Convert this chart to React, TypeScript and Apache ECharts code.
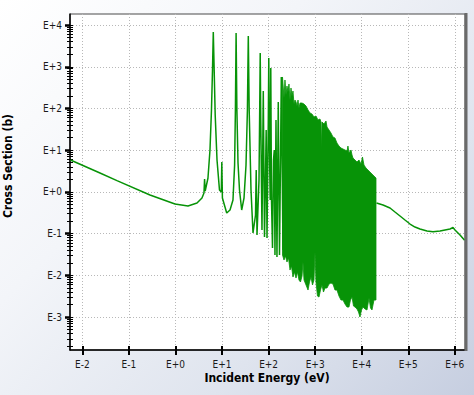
import React, { useEffect, useRef } from "react";
import * as echarts from "echarts";

// Axis extents, in decades (log10)
const xMinLog = -2.266;
const xMaxLog = 6.219;
const yMinLog = -3.79;
const yMaxLog = 4.265;

// Tick exponents and their labels
const xTickExps = [-2, -1, 0, 1, 2, 3, 4, 5, 6];
const yTickExps = [-3, -2, -1, 0, 1, 2, 3, 4];
const yMinorMantissas = [1, 2, 3, 4, 5, 6, 7, 8, 9];

// Thermal + resolved (sparse) region: log10 energy (eV) and log10 cross section (b)
const lowLogE = [
  -2.256, -1.622, -1.257, -0.548, -0.011, 0.269, 0.462, 0.569, 0.612, 0.625, 0.638, 0.698,
  0.741, 0.773, 0.795, 0.812, 0.831, 0.853, 0.892, 0.945, 0.984, 0.995, 1.008, 1.1,
  1.171, 1.235, 1.27, 1.287, 1.302, 1.319, 1.343, 1.375, 1.422, 1.472, 1.515, 1.545,
  1.564, 1.583, 1.622, 1.665, 1.719, 1.734, 1.751, 1.794, 1.809, 1.82, 1.832, 1.858,
  1.886, 1.912, 1.933, 1.948, 1.966, 1.994, 2.004, 2.019, 2.034, 2.047, 2.062, 2.084,
  2.105, 2.122, 2.137, 2.159, 2.18, 2.208, 2.234, 2.256, 2.273, 2.288, 2.309,
];
const lowLogSigma = [
  0.765, 0.453, 0.269, -0.074, -0.29, -0.338, -0.266, -0.146, -0.026, 0.309, 0.022, 0.333,
  1.005, 1.964, 2.923, 3.834, 2.923, 1.844, 0.765, 0.046, -0.002, 0.717, -0.146, -0.506,
  -0.434, -0.194, 0.645, 1.964, 3.81, 1.964, 0.693, 0.046, -0.434, -0.146, 0.645, 1.964,
  3.738, 1.964, 0.046, -0.985, -0.554, 0.525, -1.033, 0.285, 1.964, 3.33, 1.724, -0.913,
  2.419, -1.081, 0.285, 1.484, -1.105, 1.724, 3.21, 1.005, -0.194, 2.97, -0.194, -1.345,
  0.765, 1.005, -1.513, 1.724, -1.561, 2.155, -1.513, 0.765, 2.755, 2.755, -1.393,
];

// Unresolved / fast region
const fastLogE = [
  4.318, 4.458, 4.608, 4.715, 4.823, 4.93, 5.038, 5.145, 5.252, 5.403, 5.532, 5.682,
  5.79, 5.897, 5.961, 6.004, 6.112, 6.21,
];
const fastLogSigma = [
  -0.266, -0.314, -0.386, -0.482, -0.578, -0.674, -0.77, -0.842, -0.889, -0.937, -0.954, -0.937,
  -0.913, -0.889, -0.854, -0.913, -1.033, -1.16,
];

// Dense resonance forest: upper and lower envelopes
const bandTopLogE = [
  2.299, 2.331, 2.352, 2.374, 2.395, 2.417, 2.438, 2.46, 2.481, 2.503, 2.524, 2.546,
  2.567, 2.589, 2.61, 2.632, 2.653, 2.675, 2.718, 2.761, 2.804, 2.847, 2.89, 2.932,
  2.975, 3.018, 3.061, 3.104, 3.126, 3.136, 3.147, 3.19, 3.233, 3.255, 3.298, 3.34,
  3.383, 3.426, 3.469, 3.512, 3.555, 3.598, 3.641, 3.684, 3.705, 3.727, 3.77, 3.792,
  3.813, 3.856, 3.899, 3.942, 3.985, 4.017, 4.049, 4.092, 4.135, 4.178, 4.221, 4.264, 4.307,
];
const bandTopLogSigma = [
  2.755, 2.251, 2.683, 2.323, 2.539, 2.395, 2.587, 2.203, 2.491, 2.299, 2.419, 2.107,
  2.203, 2.155, 2.059, 2.203, 2.011, 2.131, 2.131, 2.107, 2.059, 1.964, 1.892, 1.868,
  1.796, 1.82, 1.724, 1.748, 1.676, 1.005, 1.676, 1.628, 1.7, 1.556, 1.484, 1.412,
  1.316, 1.292, 1.172, 1.1, 1.052, 1.028, 1.005, 0.981, 1.1, 0.933, 1.005, 0.885,
  0.813, 0.765, 0.717, 0.765, 0.669, 0.837, 0.645, 0.573, 0.525, 0.477, 0.429, 0.381, 0.333,
];
const bandBottomLogE = [
  2.299, 2.331, 2.363, 2.395, 2.428, 2.46, 2.492, 2.524, 2.556, 2.589, 2.621, 2.653,
  2.685, 2.718, 2.739, 2.761, 2.804, 2.847, 2.879, 2.911, 2.943, 2.975, 2.997, 3.018,
  3.05, 3.083, 3.115, 3.147, 3.179, 3.212, 3.255, 3.298, 3.34, 3.383, 3.426, 3.469,
  3.512, 3.555, 3.598, 3.641, 3.684, 3.727, 3.759, 3.792, 3.824, 3.856, 3.899, 3.931,
  3.963, 3.996, 4.028, 4.071, 4.114, 4.157, 4.189, 4.221, 4.264, 4.307,
];
const bandBottomLogSigma = [
  -1.513, -1.633, -1.537, -1.681, -1.585, -1.873, -1.777, -2.041, -1.921, -2.065, -1.921, -2.113,
  -2.16, -2.016, -1.681, -2.113, -2.232, -2.352, -2.16, -2.041, -2.232, -2.113, -1.441, -2.16,
  -2.496, -2.52, -2.352, -2.232, -2.4, -2.304, -2.304, -2.208, -2.184, -2.208, -2.352, -2.352,
  -2.496, -2.592, -2.592, -2.688, -2.76, -2.76, -2.592, -2.52, -2.736, -2.76, -2.807, -2.879,
  -2.999, -2.831, -2.76, -2.807, -2.831, -2.544, -2.783, -2.831, -2.592, -2.592,
];

const GREEN = "#079307";
const FONT = '"DejaVu Sans Condensed", "DejaVu Sans", sans-serif';

const expLabel = (v: number) => {
  const n = Math.round(v);
  return (n >= 0 ? "E+" : "E-") + Math.abs(n);
};

const zip = (xs: number[], ys: number[]) => xs.map((x, i) => [x, ys[i]]);

export default function App() {
  const ref = useRef<HTMLDivElement>(null);

  useEffect(() => {
    if (!ref.current) return;
    const chart = echarts.init(ref.current, null, { renderer: "svg" });

    const yMinor: number[] = [];
    for (let n = -4; n <= 4; n++) {
      for (const k of yMinorMantissas) {
        const v = n + Math.log10(k);
        if (v >= yMinLog && v <= yMaxLog) yMinor.push(+v.toFixed(4));
      }
    }

    const baseX = {
      type: "value",
      min: xMinLog,
      max: xMaxLog,
      splitNumber: 8,
    };
    const baseY = {
      type: "value",
      min: yMinLog,
      max: yMaxLog,
      splitNumber: 8,
    };

    const option: any = {
      animation: false,
      backgroundColor: "transparent",
      grid: {
        left: 70,
        top: 14,
        right: 9,
        bottom: 45,
        show: true,
        backgroundColor: "#ffffff",
        borderColor: "#4a4a4a",
        borderWidth: 1,
      },
      xAxis: [
        {
          ...baseX,
          position: "bottom",
          axisLine: { show: true, onZero: false, lineStyle: { color: "#000", width: 1.5 } },
          axisTick: {
            show: true,
            customValues: xTickExps,
            length: 5,
            lineStyle: { color: "#000", width: 2 },
          },
          axisLabel: {
            customValues: xTickExps,
            formatter: expLabel,
            margin: 9,
            fontSize: 10,
            fontFamily: FONT,
            color: "#1a1a1a",
          },
          splitLine: {
            show: true,
            lineStyle: { color: "#b8b8b8", type: [1, 2], width: 1 },
          },
        },
        {
          ...baseX,
          position: "bottom",
          axisLine: { show: false, onZero: false },
          axisTick: {
            show: true,
            inside: true,
            customValues: xTickExps,
            length: 4,
            lineStyle: { color: "#000", width: 2 },
          },
          axisLabel: { show: false },
          splitLine: { show: false },
        },
      ],
      yAxis: [
        {
          ...baseY,
          position: "left",
          axisLine: { show: true, onZero: false, lineStyle: { color: "#000", width: 1.5 } },
          axisTick: {
            show: true,
            customValues: yTickExps,
            length: 5,
            lineStyle: { color: "#000", width: 2.5 },
          },
          axisLabel: {
            customValues: yTickExps,
            formatter: expLabel,
            margin: 8,
            fontSize: 10,
            fontFamily: FONT,
            color: "#1a1a1a",
          },
          splitLine: {
            show: true,
            lineStyle: { color: "#b8b8b8", type: [1, 2], width: 1 },
          },
        },
        {
          ...baseY,
          position: "left",
          axisLine: { show: false, onZero: false },
          axisTick: {
            show: true,
            customValues: yMinor,
            length: 3,
            lineStyle: { color: "#000", width: 1 },
          },
          axisLabel: { show: false },
          splitLine: { show: false },
        },
        {
          ...baseY,
          position: "left",
          axisLine: { show: false, onZero: false },
          axisTick: {
            show: true,
            inside: true,
            customValues: yMinor,
            length: 3,
            lineStyle: { color: "#000", width: 1 },
          },
          axisLabel: { show: false },
          splitLine: { show: false },
        },
      ],
      series: [
        {
          type: "custom",
          name: "resonance forest",
          coordinateSystem: "cartesian2d",
          xAxisIndex: 0,
          yAxisIndex: 0,
          clip: true,
          silent: true,
          data: [[bandTopLogE[0], bandTopLogSigma[0]]],
          renderItem: (_params: any, api: any) => {
            const pts: number[][] = [];
            for (let i = 0; i < bandTopLogE.length; i++) {
              pts.push(api.coord([bandTopLogE[i], bandTopLogSigma[i]]));
            }
            for (let i = bandBottomLogE.length - 1; i >= 0; i--) {
              pts.push(api.coord([bandBottomLogE[i], bandBottomLogSigma[i]]));
            }
            return {
              type: "polygon",
              shape: { points: pts },
              style: { fill: GREEN, stroke: GREEN, lineWidth: 0.8 },
            };
          },
        },
        {
          type: "line",
          name: "low energy",
          xAxisIndex: 0,
          yAxisIndex: 0,
          data: zip(lowLogE, lowLogSigma),
          showSymbol: false,
          symbol: "none",
          clip: true,
          lineStyle: { color: GREEN, width: 1.5 },
          itemStyle: { color: GREEN },
        },
        {
          type: "line",
          name: "fast",
          xAxisIndex: 0,
          yAxisIndex: 0,
          data: zip(fastLogE, fastLogSigma),
          showSymbol: false,
          symbol: "none",
          clip: true,
          lineStyle: { color: GREEN, width: 1.5 },
          itemStyle: { color: GREEN },
        },
      ],
      graphic: [
        {
          type: "line",
          shape: { x1: 466, y1: 13, x2: 466, y2: 351 },
          style: { stroke: "#6a6a6a", lineWidth: 3 },
          z: 10,
        },
        {
          type: "text",
          x: 267,
          y: 378,
          style: {
            text: "Incident Energy (eV)",
            font: `bold 12px ${FONT}`,
            fill: "#000",
            align: "center",
            verticalAlign: "middle",
          },
        },
        {
          type: "text",
          x: 8,
          y: 166,
          rotation: Math.PI / 2,
          style: {
            text: "Cross Section (b)",
            font: `bold 12px ${FONT}`,
            fill: "#000",
            align: "center",
            verticalAlign: "middle",
          },
        },
      ],
    };

    chart.setOption(option);
    return () => chart.dispose();
  }, []);

  return (
    <div
      style={{
        position: "fixed",
        left: 0,
        top: 0,
        width: 474,
        height: 395,
        background:
          "linear-gradient(135deg, #ffffff 0%, #f3f5f9 35%, #dfe4ee 70%, #c6cee0 100%)",
      }}
    >
      <div ref={ref} style={{ width: 474, height: 395 }} />
    </div>
  );
}
